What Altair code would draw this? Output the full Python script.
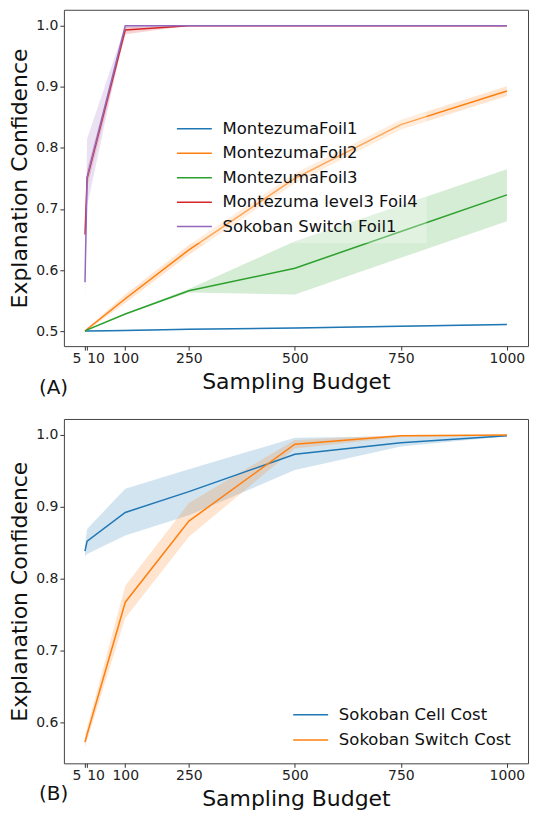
import altair as alt
import pandas as pd

budgets = [5, 10, 100, 250, 500, 750, 1000]
tick_values_x = [5, 10, 100, 250, 500, 750, 1000]

a_names = ["MontezumaFoil1", "MontezumaFoil2", "MontezumaFoil3",
           "Montezuma level3 Foil4", "Sokoban Switch Foil1"]
a_colors = ["#1f77b4", "#ff7f0e", "#2ca02c", "#d62728", "#9467bd"]

foil1_mean = [0.500, 0.500, 0.501, 0.503, 0.505, 0.508, 0.511]
foil1_lo = [0.499, 0.499, 0.500, 0.502, 0.504, 0.507, 0.510]
foil1_hi = [0.501, 0.501, 0.502, 0.504, 0.506, 0.509, 0.512]

foil2_mean = [0.500, 0.503, 0.553, 0.633, 0.750, 0.838, 0.893]
foil2_lo = [0.499, 0.501, 0.546, 0.625, 0.742, 0.830, 0.885]
foil2_hi = [0.501, 0.505, 0.560, 0.641, 0.758, 0.846, 0.901]

foil3_mean = [0.500, 0.502, 0.528, 0.566, 0.603, 0.663, 0.723]
foil3_lo = [0.500, 0.501, 0.527, 0.563, 0.560, 0.620, 0.680]
foil3_hi = [0.500, 0.503, 0.529, 0.569, 0.647, 0.706, 0.765]

foil4_mean = [0.658, 0.750, 0.993, 1.000, 1.000, 1.000, 1.000]
foil4_lo = [0.645, 0.735, 0.986, 1.000, 1.000, 1.000, 1.000]
foil4_hi = [0.670, 0.765, 0.998, 1.000, 1.000, 1.000, 1.000]

switch1_mean = [0.580, 0.752, 1.000, 1.000, 1.000, 1.000, 1.000]
switch1_lo = [0.555, 0.705, 0.996, 1.000, 1.000, 1.000, 1.000]
switch1_hi = [0.605, 0.815, 1.000, 1.000, 1.000, 1.000, 1.000]

a_means = [foil1_mean, foil2_mean, foil3_mean, foil4_mean, switch1_mean]
a_los = [foil1_lo, foil2_lo, foil3_lo, foil4_lo, switch1_lo]
a_his = [foil1_hi, foil2_hi, foil3_hi, foil4_hi, switch1_hi]

b_names = ["Sokoban Cell Cost", "Sokoban Switch Cost"]
b_colors = ["#1f77b4", "#ff7f0e"]

cell_mean = [0.838, 0.852, 0.892, 0.921, 0.973, 0.989, 0.999]
cell_lo = [0.831, 0.834, 0.860, 0.888, 0.951, 0.984, 0.998]
cell_hi = [0.846, 0.869, 0.925, 0.952, 0.996, 0.998, 1.000]

switch_mean = [0.572, 0.583, 0.767, 0.880, 0.987, 0.999, 1.000]
switch_lo = [0.565, 0.575, 0.745, 0.858, 0.981, 0.997, 0.999]
switch_hi = [0.580, 0.592, 0.790, 0.905, 0.993, 1.000, 1.000]

b_means = [cell_mean, switch_mean]
b_los = [cell_lo, switch_lo]
b_his = [cell_hi, switch_hi]

FONT = "DejaVu Sans"
NO_PAD = {"left": 0, "top": 0, "right": 0, "bottom": 0}


def build_df(names, means, los, his):
    rows = []
    for name, m, lo, hi in zip(names, means, los, his):
        for x, a, b, c in zip(budgets, m, lo, hi):
            rows.append({"series": name, "budget": x, "mean": a, "lo": b, "hi": c})
    return pd.DataFrame(rows)


def panel(df, names, colors, ydomain, yticks, width, height,
          legend_x, legend_y, row_pad, legend_fill, tag, tag_dx, tag_dy):
    xaxis = alt.Axis(
        values=tick_values_x, format="d", title="Sampling Budget", titleFontSize=22,
        titleFontWeight="normal", titleColor="#111", titlePadding=6,
        labelFontSize=14, labelColor="#222", labelOverlap=False, labelFlush=False,
        labelOffset={"condition": [{"test": "datum.value == 5", "value": -8.5},
                                   {"test": "datum.value == 10", "value": 8.5}],
                     "value": 0},
        grid=False, domain=False, tickSize=4, tickColor="#333", labelPadding=1,
    )
    yaxis = alt.Axis(
        values=yticks, format=".1f", title="Explanation Confidence",
        titleFontSize=22, titleFontWeight="normal", titleColor="#111",
        titlePadding=4, labelFontSize=14, labelColor="#222",
        grid=False, domain=False, tickSize=4, tickColor="#333", labelPadding=2,
    )
    x = alt.X("budget:Q", axis=xaxis,
              scale=alt.Scale(domain=[-44.75, 1049.75], nice=False, zero=False))
    yscale = alt.Scale(domain=ydomain, nice=False, zero=False)
    legend = alt.Legend(
        title=None, orient="none", legendX=legend_x, legendY=legend_y,
        symbolType="M-2.5,0H2.5", symbolSize=196, symbolStrokeWidth=1.5,
        symbolOpacity=1, labelFontSize=16.5, labelFont=FONT, labelColor="#111",
        labelOffset=20, rowPadding=row_pad, padding=8, fillColor=legend_fill,
        labelLimit=400,
    )
    color = alt.Color("series:N", scale=alt.Scale(domain=names, range=colors),
                      legend=legend)

    band = alt.Chart(df).mark_area(opacity=0.2).encode(
        x=x, y=alt.Y("lo:Q", axis=yaxis, scale=yscale), y2="hi:Q", color=color,
    )
    line = alt.Chart(df).mark_line(strokeWidth=1.5).encode(
        x=x, y=alt.Y("mean:Q", axis=yaxis, scale=yscale), color=color,
    )
    title = alt.TitleParams(
        tag, orient="bottom", anchor="start", frame="group", fontSize=20,
        font=FONT, fontWeight="normal", color="#111", dx=tag_dx, dy=tag_dy,
        offset=0,
    )
    return alt.layer(band, line).properties(width=width, height=height, title=title)


df_a = build_df(a_names, a_means, a_los, a_his)
df_b = build_df(b_names, b_means, b_los, b_his)

chart_a = panel(df_a, a_names, a_colors, [0.4754, 1.0261], [0.5, 0.6, 0.7, 0.8, 0.9, 1.0],
                465, 337, 114.5, 103, 7.5, "rgba(255,255,255,0.3)", "(A)", -25, -14)
chart_b = panel(df_b, b_names, b_colors, [0.5425, 1.0222], [0.6, 0.7, 0.8, 0.9, 1.0],
                465, 345, 231, 280, 8.5, "rgba(255,255,255,0)", "(B)", -25, -25)

chart = alt.vconcat(chart_a, chart_b, spacing=19, padding=NO_PAD).resolve_scale(
    color="independent", x="independent", y="independent"
).configure(font=FONT, padding=NO_PAD).configure_view(stroke="#444", strokeWidth=1)

chart.save("out.html", embed_options={"renderer": "svg", "actions": False})
